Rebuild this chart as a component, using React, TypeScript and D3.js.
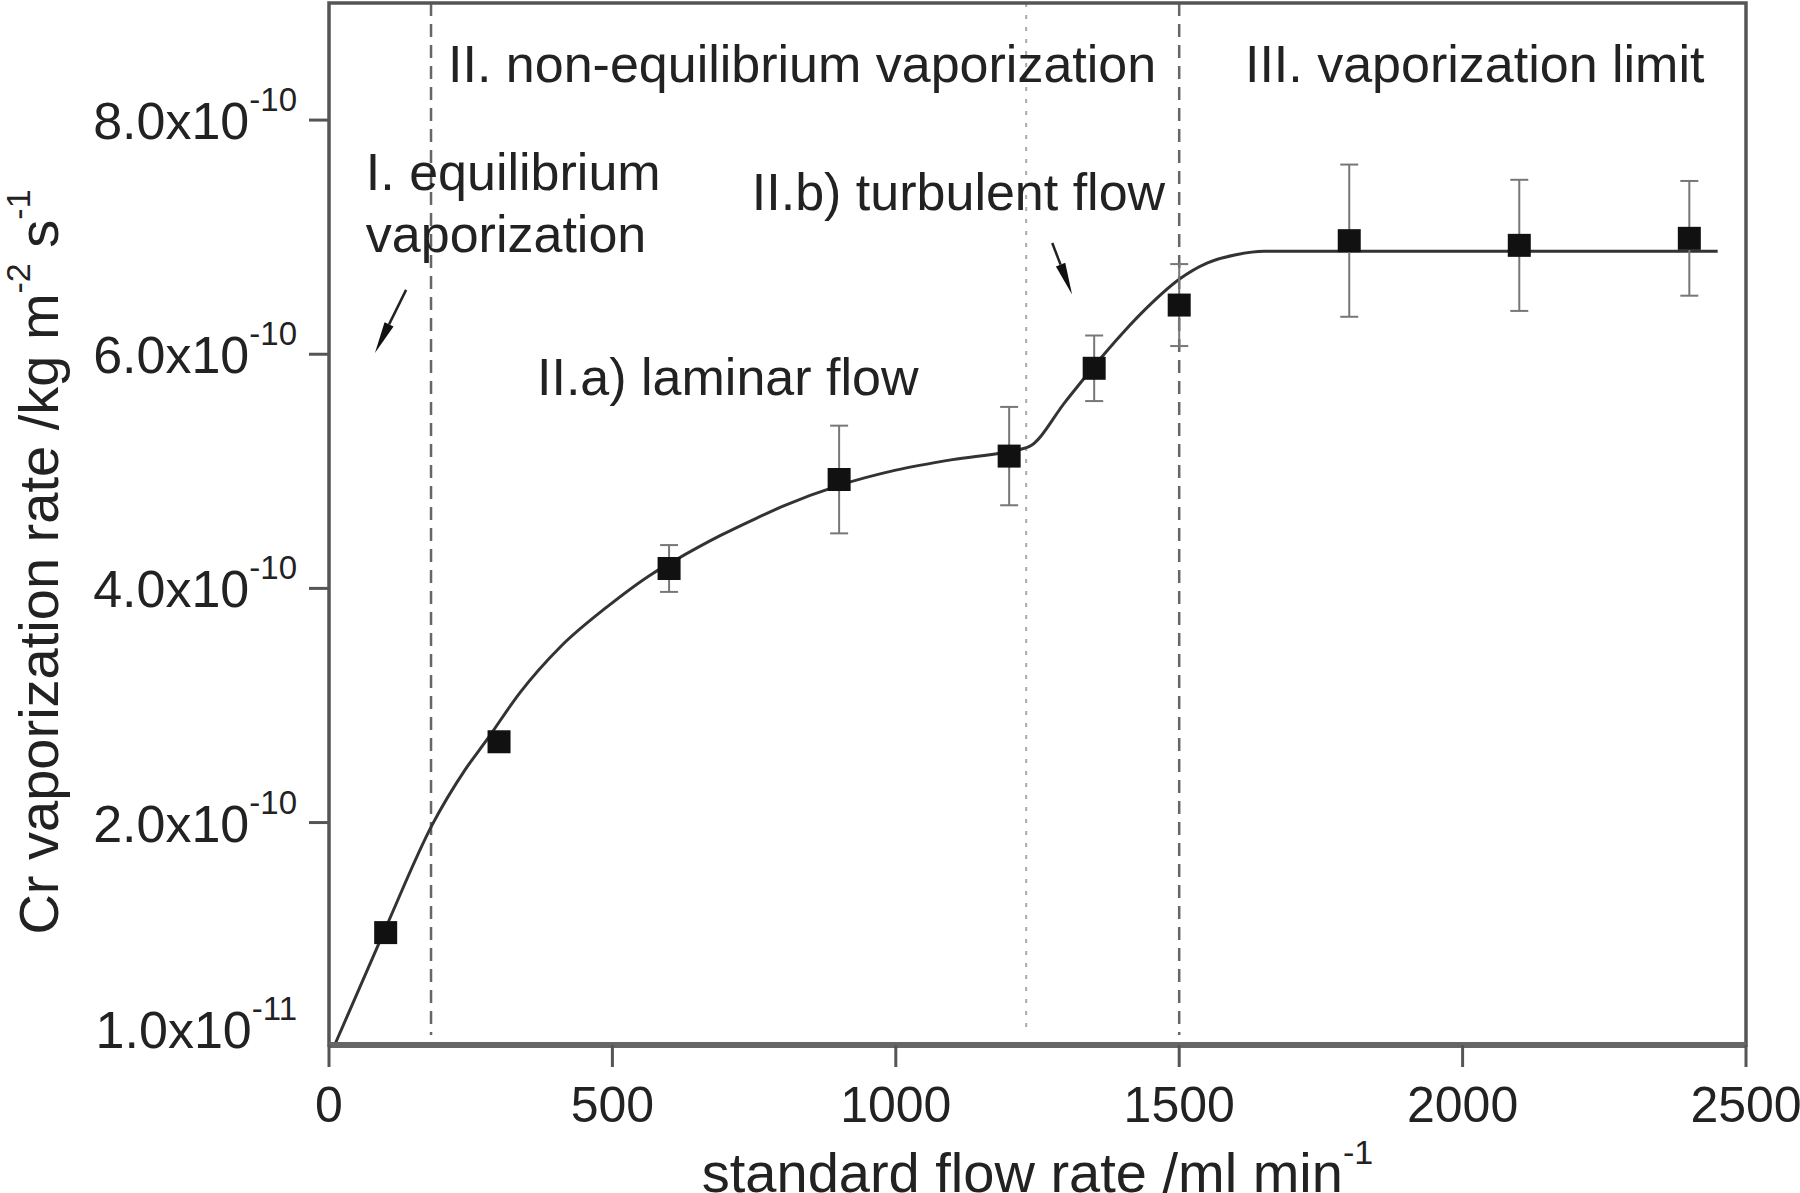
import * as React from 'react';
import * as d3 from 'd3';

// measured points: standard flow rate (ml/min) vs Cr vaporization rate (x1e-10 kg m^-2 s^-1)
const flowRates = [100, 300, 600, 900, 1200, 1350, 1500, 1800, 2100, 2400];
const vapRates = [1.06, 2.69, 4.17, 4.93, 5.13, 5.88, 6.42, 6.97, 6.93, 6.99];
const vapErrors = [0.05, 0.05, 0.2, 0.46, 0.42, 0.28, 0.35, 0.65, 0.56, 0.49];

// fitted guide curve
const fitFlow = [10, 100, 182, 240, 279, 337, 408, 490, 572, 607, 690, 750, 800, 900, 1000, 1100, 1200, 1235, 1300, 1350, 1400, 1450, 1500, 1550, 1600, 1650, 1700, 2450];
const fitRate = [0.1, 1.1, 1.98, 2.45, 2.71, 3.11, 3.5, 3.84, 4.13, 4.23, 4.45, 4.59, 4.7, 4.88, 5.01, 5.1, 5.17, 5.21, 5.6, 5.9, 6.18, 6.43, 6.64, 6.78, 6.85, 6.88, 6.88, 6.88];

// regime boundaries
const boundaryFlow = [180, 1230, 1500];
const boundaryStyle = ['dashed', 'dotted', 'dashed'];

const xTicks = [0, 500, 1000, 1500, 2000, 2500];
const yTicks = [1e-11, 2e-10, 4e-10, 6e-10, 8e-10];

const noteTexts = ['II. non-equilibrium vaporization', 'III. vaporization limit', 'I. equilibrium', 'vaporization', 'II.b) turbulent flow', 'II.a) laminar flow'];
const noteFlow = [210, 1616, 65, 65, 746, 367];
const noteRate = [8.325, 8.325, 7.4, 6.87, 7.23, 5.65];

// arrows: [flow, rate] of tail and tip
const arrowFrom = [[136, 6.55], [1276, 6.95]];
const arrowTo = [[81, 6.01], [1311, 6.51]];

const E = 1e-10;
const FONT = '"Liberation Sans", Arial, sans-serif';

const App: React.FC = () => {
    const ref = React.useRef<SVGSVGElement>(null);

    React.useEffect(() => {
        const width = 1800;
        const height = 1193;
        const svg = d3.select(ref.current!);
        svg.selectAll('*').remove();

        const x = d3.scaleLinear().domain([0, 2500]).range([329, 1746]);
        const y = d3.scaleLinear().domain([1e-11, 9e-10]).range([1045, 3]);

        svg.append('rect').attr('width', width).attr('height', height).attr('fill', 'white');

        // boundaries
        svg.selectAll('line.bound')
            .data(boundaryFlow)
            .enter().append('line')
            .attr('x1', d => x(d)).attr('x2', d => x(d))
            .attr('y1', y.range()[1]).attr('y2', y.range()[0] - 10)
            .attr('stroke', (d, i) => boundaryStyle[i] === 'dotted' ? '#aaa' : '#666')
            .attr('stroke-width', (d, i) => boundaryStyle[i] === 'dotted' ? 2 : 2.5)
            .attr('stroke-dasharray', (d, i) => boundaryStyle[i] === 'dotted' ? '4 8' : '13 8');

        // fit curve
        const fit = fitFlow.map((f, i) => [f, fitRate[i] * E] as [number, number]);
        const line = d3.line<[number, number]>()
            .x(d => x(d[0])).y(d => y(d[1]))
            .curve(d3.curveMonotoneX);
        svg.append('path').attr('d', line(fit)!)
            .attr('fill', 'none').attr('stroke', '#333').attr('stroke-width', 3);

        // error bars
        const pts = flowRates.map((f, i) => ({ f, v: vapRates[i] * E, e: vapErrors[i] * E }));
        const eb = svg.append('g').attr('stroke', '#777').attr('stroke-width', 2);
        pts.forEach(p => {
            eb.append('line').attr('x1', x(p.f)).attr('x2', x(p.f))
                .attr('y1', y(p.v - p.e)).attr('y2', y(p.v + p.e));
            [p.v - p.e, p.v + p.e].forEach(v => {
                eb.append('line').attr('x1', x(p.f) - 9).attr('x2', x(p.f) + 9)
                    .attr('y1', y(v)).attr('y2', y(v));
            });
        });

        // markers
        const ms = 23;
        svg.selectAll('rect.pt')
            .data(pts)
            .enter().append('rect')
            .attr('x', d => x(d.f) - ms / 2).attr('y', d => y(d.v) - ms / 2)
            .attr('width', ms).attr('height', ms)
            .attr('fill', '#111');

        // frame
        const [x0, x1] = x.range();
        const [yb, yt] = y.range();
        svg.append('rect').attr('x', x0).attr('y', yt).attr('width', x1 - x0).attr('height', yb - yt)
            .attr('fill', 'none').attr('stroke', '#555').attr('stroke-width', 3.5);
        svg.append('line').attr('x1', x0).attr('x2', x1).attr('y1', yb).attr('y2', yb)
            .attr('stroke', '#666').attr('stroke-width', 6);

        // x axis ticks
        svg.selectAll('line.xt').data(xTicks).enter().append('line')
            .attr('x1', d => x(d)).attr('x2', d => x(d)).attr('y1', yb).attr('y2', yb + 22)
            .attr('stroke', '#555').attr('stroke-width', 3);
        svg.selectAll('text.xl').data(xTicks).enter().append('text')
            .attr('x', d => x(d)).attr('y', 1122)
            .attr('text-anchor', 'middle').attr('font-family', FONT).attr('font-size', 50).attr('fill', '#222')
            .text(d => String(d));

        // y axis ticks
        svg.selectAll('line.yt').data(yTicks.slice(1)).enter().append('line')
            .attr('x1', x0 - 20).attr('x2', x0).attr('y1', d => y(d)).attr('y2', d => y(d))
            .attr('stroke', '#555').attr('stroke-width', 3);
        yTicks.forEach((v, i) => {
            const ex = Math.floor(Math.log10(v) + 1e-9);
            const man = (v / Math.pow(10, ex)).toFixed(1);
            const t = svg.append('text')
                .attr('x', 297).attr('y', y(v) + 19 - (i === 0 ? 16 : 0))
                .attr('text-anchor', 'end').attr('font-family', FONT).attr('fill', '#222');
            t.append('tspan').attr('font-size', 52).text(`${man}x10`);
            t.append('tspan').attr('font-size', 33).attr('dy', -28).text(`-${-ex}`);
        });

        // axis titles
        const xt = svg.append('text').attr('x', (x0 + x1) / 2).attr('y', 1192)
            .attr('text-anchor', 'middle').attr('font-family', FONT).attr('font-size', 56).attr('fill', '#222');
        xt.append('tspan').text('standard flow rate /ml min');
        xt.append('tspan').attr('font-size', 34).attr('dy', -28).text('-1');

        const yt2 = svg.append('text').attr('transform', 'translate(58,562) rotate(-90)')
            .attr('text-anchor', 'middle').attr('font-family', FONT).attr('font-size', 56).attr('fill', '#222');
        yt2.append('tspan').text('Cr vaporization rate /kg m');
        yt2.append('tspan').attr('font-size', 34).attr('dy', -28).text('-2');
        yt2.append('tspan').attr('dy', 28).text(' s');
        yt2.append('tspan').attr('font-size', 34).attr('dy', -28).text('-1');

        // annotations
        noteTexts.forEach((s, i) => {
            svg.append('text').attr('x', x(noteFlow[i])).attr('y', y(noteRate[i] * E))
                .attr('font-family', FONT).attr('font-size', 52).attr('fill', '#222').text(s);
        });

        // arrows
        arrowFrom.forEach((a, i) => {
            const sx = x(a[0]), sy = y(a[1] * E);
            const ex = x(arrowTo[i][0]), ey = y(arrowTo[i][1] * E);
            const len = Math.hypot(ex - sx, ey - sy);
            const ux = (ex - sx) / len, uy = (ey - sy) / len;
            const hl = 32, hw = 5;
            const bx = ex - ux * hl, by = ey - uy * hl;
            svg.append('line').attr('x1', sx).attr('y1', sy).attr('x2', bx).attr('y2', by)
                .attr('stroke', '#222').attr('stroke-width', 2.5);
            svg.append('polygon')
                .attr('points', `${ex},${ey} ${bx - uy * hw},${by + ux * hw} ${bx + uy * hw},${by - ux * hw}`)
                .attr('fill', '#111');
        });
    }, []);

    return (
        <svg ref={ref} width={1800} height={1193}
            style={{ position: 'absolute', left: 0, top: 0, display: 'block' }} />
    );
};

export default App;
